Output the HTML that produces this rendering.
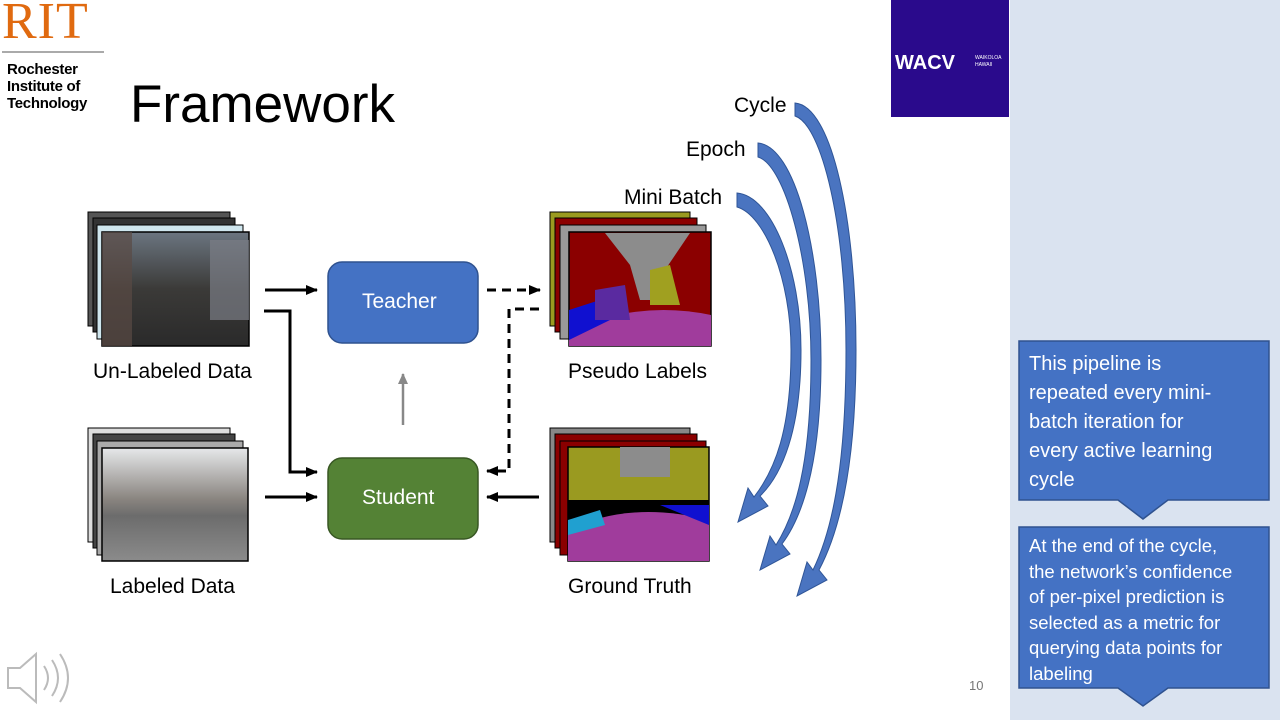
<!DOCTYPE html>
<html><head><meta charset="utf-8"><style>
html,body{margin:0;padding:0}
body{width:1280px;height:720px;position:relative;background:#fff;font-family:"Liberation Sans",sans-serif;overflow:hidden}
.t{position:absolute;white-space:nowrap;color:#000}
</style></head><body>
<svg width="1280" height="720" style="position:absolute;left:0;top:0" xmlns="http://www.w3.org/2000/svg">
<defs>
<marker id="ah" markerWidth="14" markerHeight="14" refX="11" refY="7" orient="auto" markerUnits="userSpaceOnUse"><path d="M0,2 L12,7 L0,12 Z" fill="#000"/></marker>
<marker id="ahg" markerWidth="14" markerHeight="14" refX="10" refY="7" orient="auto" markerUnits="userSpaceOnUse"><path d="M0,2 L11,7 L0,12 Z" fill="#888"/></marker>
<linearGradient id="street" x1="0" y1="0" x2="0" y2="1"><stop offset="0" stop-color="#6b7580"/><stop offset="0.5" stop-color="#3b3a38"/><stop offset="1" stop-color="#2a2a2a"/></linearGradient>
<linearGradient id="street2" x1="0" y1="0" x2="0" y2="1"><stop offset="0" stop-color="#e6e8ea"/><stop offset="0.45" stop-color="#8a8580"/><stop offset="0.6" stop-color="#6c6c6c"/><stop offset="1" stop-color="#8b8b8b"/></linearGradient>
</defs>
<rect x="1010" y="0" width="270" height="720" fill="#dae3f0"/>
<rect x="891" y="0" width="118" height="117" fill="#2a0a8c"/>
<rect x="88" y="212" width="142" height="114" fill="#555" stroke="#000"/>
<rect x="93" y="218" width="142" height="114" fill="#333" stroke="#000"/>
<rect x="97" y="225" width="146" height="114" fill="#cfe6ee" stroke="#000"/>
<rect x="102" y="232" width="147" height="114" fill="url(#street)" stroke="#000" stroke-width="1.5"/>
<rect x="102" y="232" width="30" height="114" fill="#5a4a44" opacity=".7"/>
<rect x="210" y="240" width="39" height="80" fill="#7a7e86" opacity=".7"/>
<rect x="88" y="428" width="142" height="114" fill="#ddd" stroke="#000"/>
<rect x="93" y="434" width="142" height="114" fill="#444" stroke="#000"/>
<rect x="97" y="441" width="146" height="114" fill="#aaa" stroke="#000"/>
<rect x="102" y="448" width="146" height="113" fill="url(#street2)" stroke="#000" stroke-width="1.5"/>
<rect x="550" y="212" width="140" height="114" fill="#9a9a20" stroke="#000"/>
<rect x="555" y="218" width="142" height="114" fill="#8b0000" stroke="#000"/>
<rect x="560" y="225" width="146" height="114" fill="#999" stroke="#000"/>
<g>
<rect x="569" y="232" width="142" height="114" fill="#8b0000" stroke="#000" stroke-width="1.5"/>
<path d="M605,233 L690,233 L665,270 L660,300 L640,300 L630,265 Z" fill="#8c8c8c"/>
<path d="M569,330 Q640,300 711,315 L711,346 L569,346 Z" fill="#a03c9c"/>
<path d="M569,310 L600,300 L610,320 L569,340 Z" fill="#1010d0"/>
<path d="M595,290 L625,285 L630,320 L595,320 Z" fill="#5a2aa0"/>
<path d="M650,270 L670,265 L680,305 L650,305 Z" fill="#a0a020"/>
</g>
<rect x="550" y="428" width="140" height="114" fill="#888" stroke="#000"/>
<rect x="555" y="434" width="142" height="114" fill="#8b0000" stroke="#000"/>
<rect x="560" y="441" width="146" height="114" fill="#8b0000" stroke="#000"/>
<g>
<rect x="568" y="447" width="141" height="114" fill="#9a9a20" stroke="#000" stroke-width="1.5"/>
<rect x="620" y="447" width="50" height="30" fill="#8c8c8c"/>
<path d="M568,500 L709,500 L709,515 L568,520 Z" fill="#000"/>
<path d="M568,530 Q630,500 709,520 L709,561 L568,561 Z" fill="#a03c9c"/>
<path d="M568,520 L600,510 L605,525 L568,535 Z" fill="#20a0d0"/>
<path d="M660,505 L709,505 L709,525 Z" fill="#1010d0"/>
</g>
<rect x="328" y="262" width="150" height="81" rx="14" fill="#4472c4" stroke="#2f528f" stroke-width="1.5"/>
<rect x="328" y="458" width="150" height="81" rx="14" fill="#548235" stroke="#385723" stroke-width="1.5"/>
<line x1="265" y1="290" x2="317" y2="290" stroke="#000" stroke-width="3" marker-end="url(#ah)"/>
<polyline points="264,311 290,311 290,472 317,472" fill="none" stroke="#000" stroke-width="3" marker-end="url(#ah)"/>
<line x1="265" y1="497" x2="317" y2="497" stroke="#000" stroke-width="3" marker-end="url(#ah)"/>
<line x1="487" y1="290" x2="540" y2="290" stroke="#000" stroke-width="3" stroke-dasharray="9,6" marker-end="url(#ah)"/>
<polyline points="539,309 509,309 509,471 487,471" fill="none" stroke="#000" stroke-width="3" stroke-dasharray="9,6" marker-end="url(#ah)"/>
<line x1="539" y1="497" x2="487" y2="497" stroke="#000" stroke-width="3" marker-end="url(#ah)"/>
<line x1="403" y1="425" x2="403" y2="374" stroke="#888" stroke-width="2.5" marker-end="url(#ahg)"/>
<g fill="#4a74c0" stroke="#2f5597" stroke-width="1">
<path d="M737,193 C772,196 801,270 801,350 C801,430 782,475 760,496 L768,506 L738,522 L748,488 L754,497 C775,470 791,430 791,350 C791,280 765,215 737,207 Z"/>
<path d="M758,143 C795,146 821,250 821,360 C821,470 800,520 782,544 L790,554 L760,570 L770,536 L776,545 C795,515 811,465 811,360 C811,260 785,165 758,157 Z"/>
<path d="M795,103 C832,106 856,220 856,350 C856,480 835,540 819,570 L827,580 L797,596 L807,562 L813,570 C830,535 846,475 846,350 C846,225 822,125 795,116 Z"/>
</g>
<path d="M1019,341 H1269 V500 H1168 L1143,519 L1118,500 H1019 Z" fill="#4472c4" stroke="#2f528f" stroke-width="1.5"/>
<path d="M1019,527 H1269 V688 H1168 L1143,706 L1118,688 H1019 Z" fill="#4472c4" stroke="#2f528f" stroke-width="1.5"/>
<line x1="2" y1="52" x2="104" y2="52" stroke="#555" stroke-width="1"/>
<g fill="none" stroke="#bbb" stroke-width="2">
<path d="M8,668 H20 L36,654 V702 L20,688 H8 Z"/>
<path d="M44,666 Q52,678 44,690"/><path d="M52,660 Q64,678 52,696"/><path d="M60,654 Q76,678 60,702"/>
</g>
</svg>
<div class="t" style="left:2px;top:-8px;font-family:'Liberation Serif',serif;font-size:52px;color:#e06a10;letter-spacing:1px">RIT</div>
<div class="t" style="left:7px;top:61px;font-size:15px;font-weight:bold;line-height:17px;letter-spacing:-0.3px">Rochester<br>Institute of<br>Technology</div>
<div class="t" style="left:130px;top:74px;font-size:53px">Framework</div>
<div class="t" style="left:895px;top:52px;font-size:20px;font-weight:bold;color:#fff">WACV</div>
<div class="t" style="left:975px;top:55px;font-size:5px;color:#fff;line-height:7px">WAIKOLOA<br>HAWAII</div>
<div class="t" style="left:734px;top:94px;font-size:21px">Cycle</div>
<div class="t" style="left:686px;top:138px;font-size:21px">Epoch</div>
<div class="t" style="left:624px;top:186px;font-size:21px">Mini Batch</div>
<div class="t" style="left:93px;top:360px;font-size:21px">Un-Labeled Data</div>
<div class="t" style="left:110px;top:575px;font-size:21px">Labeled Data</div>
<div class="t" style="left:568px;top:360px;font-size:21px">Pseudo Labels</div>
<div class="t" style="left:568px;top:575px;font-size:21px">Ground Truth</div>
<div class="t" style="left:362px;top:290px;font-size:21px;color:#fff">Teacher</div>
<div class="t" style="left:362px;top:486px;font-size:21px;color:#fff">Student</div>
<div class="t" style="left:1029px;top:350px;font-size:20px;color:#fff;line-height:29px">This pipeline is<br>repeated every mini-<br>batch iteration for<br>every active learning<br>cycle</div>
<div class="t" style="left:1029px;top:533px;font-size:18.5px;color:#fff;line-height:25.6px">At the end of the cycle,<br>the network’s confidence<br>of per-pixel prediction is<br>selected as a metric for<br>querying data points for<br>labeling</div>
<div class="t" style="left:969px;top:678px;font-size:13px;color:#777">10</div>
</body></html>
